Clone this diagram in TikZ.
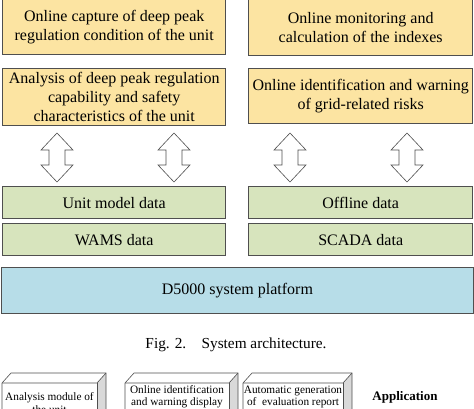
\documentclass[tikz,border=0pt]{standalone}
\usepackage{fontspec}
\setmainfont{Liberation Serif}
\definecolor{ybox}{HTML}{FCE4A2}
\definecolor{gbox}{HTML}{D7E4BD}
\definecolor{bbox}{HTML}{B7DDE8}
\definecolor{edge}{HTML}{4F4F4F}
\definecolor{sidegray}{HTML}{D9D9D9}
\tikzset{
  basebox/.style={draw=edge, line width=1.4pt, inner sep=0pt, align=center, anchor=north west,
    font=\fontsize{16}{19}\selectfont},
  ybx/.style={basebox, fill=ybox},
  gbx/.style={basebox, fill=gbox},
  bbx/.style={basebox, fill=bbox},
  arrowstyle/.style={draw=edge, fill=white, line width=0.6pt, line join=miter},
  dblarr/.pic={\draw[arrowstyle] (0,0) -- (16,17) -- (8,17) -- (8,32) -- (16,32) -- (0,49)
     -- (-16,32) -- (-8,32) -- (-8,17) -- (-16,17) -- cycle;},
  cubeedge/.style={draw=edge, line width=0.6pt},
  cubetext/.style={font=\fontsize{11.3}{12.5}\selectfont, align=center, inner sep=0pt}
}
\begin{document}
\begin{tikzpicture}[x=1pt,y=-1pt]
\useasboundingbox (0,0) rectangle (474,408);
\clip (0,0) rectangle (474,408);
% application boxes
\node[ybx, minimum width=223pt, minimum height=56pt] (cap) at (2,-2)
  {Online capture of deep peak\\regulation condition of the unit};
\node[ybx, minimum width=223pt, minimum height=57pt] (ana) at (2,68)
  {Analysis of deep peak regulation\\capability and safety\\characteristics of the unit};
\node[ybx, minimum width=224pt, minimum height=57pt] (mon) at (248,-2)
  {Online monitoring and\\calculation of the indexes};
\node[ybx, minimum width=224pt, minimum height=55pt] (ide) at (248,68)
  {Online identification and warning\\of grid-related risks};
% arrows
\pic at (57,133) {dblarr};
\pic at (174,133) {dblarr};
\pic at (290,133) {dblarr};
\pic at (407,133) {dblarr};
% data boxes
\node[gbx, minimum width=223pt, minimum height=32pt] (umd) at (2,186) {Unit model data};
\node[gbx, minimum width=223pt, minimum height=32pt] (wams) at (2,223) {WAMS data};
\node[gbx, minimum width=224pt, minimum height=32pt] (off) at (248,186) {Offline data};
\node[gbx, minimum width=224pt, minimum height=32pt] (scada) at (248,223) {SCADA data};
% platform
\node[bbx, minimum width=472pt, minimum height=46pt] (d5k) at (0.7,267) {D5000 system platform};
% caption
\node[font=\fontsize{15.3}{18}\selectfont, inner sep=0pt] (cap2) at (236,345) {Fig. 2.\quad System architecture.};
% bottom 3D boxes
\foreach \xa/\xb in {2/97, 125/229, 243/343}{
  \fill[white] (\xa,383) -- (\xa+9,373) -- (\xb+9,373) -- (\xb,383) -- cycle;
  \fill[sidegray] (\xb,383) -- (\xb+9,373) -- (\xb+9,430) -- (\xb,440) -- cycle;
  \draw[cubeedge] (\xa,440) -- (\xa,383) -- (\xa+9,373) -- (\xb+9,373) -- (\xb+9,430) -- (\xb,440);
  \draw[cubeedge] (\xa,383) -- (\xb,383) -- (\xb+9,373);
  \draw[cubeedge] (\xb,383) -- (\xb,440);
}
\node[cubetext, anchor=base] (m1) at (49.5,400) {Analysis module of};
\node[cubetext, anchor=base] (m1b) at (49.5,413) {the unit};
\node[cubetext, anchor=base] (m2) at (177,393) {Online identification};
\node[cubetext, anchor=base] (m2b) at (177,405) {and warning display};
\node[cubetext, anchor=base] (m3) at (293,393) {Automatic generation};
\node[cubetext, anchor=base] (m3b) at (293,405) {of~ evaluation report};
\node[font=\fontsize{13}{15}\selectfont\bfseries, anchor=base, inner sep=0pt] (app) at (405,400) {Application};
\end{tikzpicture}
\end{document}
